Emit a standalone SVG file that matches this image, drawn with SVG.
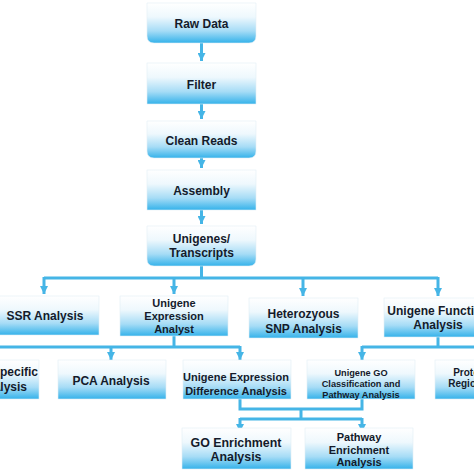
<svg xmlns="http://www.w3.org/2000/svg" width="474" height="474" viewBox="0 0 474 474">
<defs>
<linearGradient id="g" x1="0" y1="0" x2="0" y2="1">
<stop offset="0" stop-color="#ffffff"/>
<stop offset="0.35" stop-color="#eef8fd"/>
<stop offset="0.7" stop-color="#a6dcf6"/>
<stop offset="1" stop-color="#34b2ea"/>
</linearGradient>
<marker id="ah" markerUnits="userSpaceOnUse" markerWidth="9" markerHeight="8" refX="8" refY="4" orient="auto">
<path d="M0,0 L8,4 L0,8 z" fill="#45b5e6"/>
</marker>
<style>
.b{fill:url(#g);stroke:#e2eef5;stroke-width:0.6}
.t{font-family:"Liberation Sans",Arial,sans-serif;font-weight:bold;fill:#141b2b;text-anchor:middle}
.s12{font-size:12px}
.s11{font-size:11px}
.s9{font-size:9.2px}
.s10{font-size:10px}
.c{fill:none;stroke:#45b5e6;stroke-width:3}
.a{marker-end:url(#ah)}
</style>
</defs>
<rect width="474" height="474" fill="#ffffff"/>

<g id="connectors">
<line class="c a" x1="201.5" y1="43" x2="201.5" y2="61"/>
<line class="c a" x1="201.5" y1="104" x2="201.5" y2="119"/>
<line class="c a" x1="201.5" y1="158" x2="201.5" y2="168"/>
<line class="c a" x1="201.5" y1="210" x2="201.5" y2="224"/>
<polyline class="c" points="201.5,266 201.5,278"/>
<polyline class="c" points="44,278 438,278"/>
<line class="c a" x1="44" y1="277" x2="44" y2="294"/>
<line class="c a" x1="174" y1="277" x2="174" y2="294"/>
<line class="c a" x1="303" y1="277" x2="303" y2="296"/>
<line class="c a" x1="438" y1="277" x2="438" y2="296"/>
<polyline class="c" points="174,336 174,347"/>
<polyline class="c" points="-20,347 240,347"/>
<line class="c a" x1="111" y1="346" x2="111" y2="360"/>
<line class="c a" x1="240" y1="346" x2="240" y2="360"/>
<polyline class="c" points="438,337 438,347"/>
<polyline class="c" points="362,347 490,347"/>
<line class="c a" x1="362" y1="346" x2="362" y2="360"/>
<polyline class="c" points="240,399 240,409 362,409 362,399"/>
<polyline class="c" points="301,409 301,419"/>
<polyline class="c" points="240,419 362,419"/>
<line class="c a" x1="240" y1="418" x2="240" y2="432"/>
<line class="c a" x1="362" y1="418" x2="362" y2="432"/>
</g>

<g id="raw-data">
<path class="b" d="M147,3 h109 v33 q0,7 -7,7 h-95 q-7,0 -7,-7 z"/>
<text class="t s12" x="201.5" y="28">Raw Data</text>
</g>
<g id="filter">
<rect class="b" x="147" y="63" width="109" height="41"/>
<text class="t s12" x="201.5" y="88.5">Filter</text>
</g>
<g id="clean-reads">
<path class="b" d="M147,121 h109 v30 q0,7 -7,7 h-95 q-7,0 -7,-7 z"/>
<text class="t s12" x="201.5" y="145">Clean Reads</text>
</g>
<g id="assembly">
<rect class="b" x="147" y="170" width="109" height="40"/>
<text class="t s12" x="201.5" y="194.5">Assembly</text>
</g>
<g id="unigenes">
<path class="b" d="M147,226 h109 v33 q0,7 -7,7 h-95 q-7,0 -7,-7 z"/>
<text class="t s12" x="201.5" y="242.5">Unigenes/</text>
<text class="t s12" x="201.5" y="256.5">Transcripts</text>
</g>

<g id="ssr">
<rect class="b" x="-9" y="296" width="108" height="39"/>
<text class="t s12" x="45" y="319.5">SSR Analysis</text>
</g>
<g id="unigene-expression">
<rect class="b" x="120" y="296" width="108" height="40"/>
<text class="t s11" x="174" y="307">Unigene</text>
<text class="t s11" x="174" y="320">Expression</text>
<text class="t s11" x="174" y="333">Analyst</text>
</g>
<g id="snp">
<rect class="b" x="249" y="298" width="109" height="40"/>
<text class="t s12" x="303.5" y="318">Heterozyous</text>
<text class="t s12" x="303.5" y="332.5">SNP Analysis</text>
</g>
<g id="unigene-function">
<rect class="b" x="384" y="298" width="108" height="39"/>
<text class="t s12" x="438" y="315">Unigene Function</text>
<text class="t s12" x="438" y="328.5">Analysis</text>
</g>

<g id="specific">
<rect class="b" x="-69" y="360" width="108" height="39"/>
<text class="t s12" style="text-anchor:end" x="38" y="376">Specific</text>
<text class="t s12" style="text-anchor:end" x="27" y="391">Analysis</text>
</g>
<g id="pca">
<rect class="b" x="58" y="360" width="108" height="39"/>
<text class="t s12" x="111" y="384.5">PCA Analysis</text>
</g>
<g id="difference">
<rect class="b" x="183" y="360" width="108" height="39"/>
<text class="t s11" x="236" y="381">Unigene Expression</text>
<text class="t s11" x="236" y="394.5">Difference Analysis</text>
</g>
<g id="go-classification">
<rect class="b" x="307" y="360" width="108" height="39"/>
<text class="t s9" x="361" y="375.5">Unigene GO</text>
<text class="t s9" x="361" y="386.5">Classification and</text>
<text class="t s9" x="361" y="397.5">Pathway Analysis</text>
</g>
<g id="protein">
<rect class="b" x="435" y="360" width="108" height="39"/>
<text class="t s10" x="489" y="376">Protein Coding</text>
<text class="t s10" x="491" y="387">Region Prediction</text>
</g>

<g id="go-enrichment">
<rect class="b" x="182" y="428" width="109" height="41"/>
<text class="t" style="font-size:12.4px" x="236" y="447">GO Enrichment</text>
<text class="t" style="font-size:12.4px" x="236" y="461">Analysis</text>
</g>
<g id="pathway-enrichment">
<rect class="b" x="305" y="428" width="108" height="41"/>
<text class="t s11" x="359" y="441">Pathway</text>
<text class="t s11" x="359" y="453.5">Enrichment</text>
<text class="t s11" x="359" y="466">Analysis</text>
</g>
</svg>
